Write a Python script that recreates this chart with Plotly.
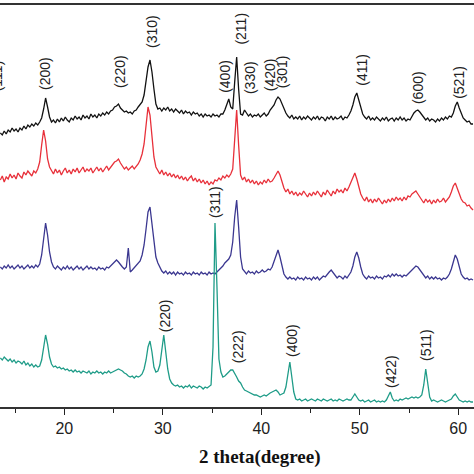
import numpy as np
import plotly.graph_objects as go

# 2-theta sampling grid (degrees)
two_theta = np.round(13.5 + 0.2 * np.arange(241), 2)

# Stacked XRD intensities (a.u., as displayed)
black_y = [
    274, 272, 276, 273, 277, 275, 279, 276, 278, 275,
    279, 277, 281, 278, 282, 280, 283, 281, 284, 282,
    285, 289, 298, 309, 300, 290, 285, 287, 284, 288,
    285, 289, 286, 290, 287, 285, 289, 287, 291, 288,
    290, 287, 292, 289, 291, 288, 293, 290, 292, 289,
    293, 291, 294, 292, 295, 293, 296, 297, 300, 301,
    303, 299, 297, 295, 296, 294, 295, 293, 296, 297,
    300, 303, 305, 312, 325, 340, 347, 335, 318, 303,
    298, 299, 296, 299, 297, 300, 296, 298, 295, 298,
    296, 294, 297, 293, 296, 294, 295, 292, 295, 293,
    294, 291, 293, 290, 293, 291, 292, 290, 293, 291,
    292, 290, 293, 293, 297, 303, 308, 300, 298, 325,
    350, 318, 293, 292, 297, 294, 291, 293, 290, 292,
    291, 293, 290, 292, 294, 291, 293, 297, 299, 302,
    307, 310, 308, 303, 298, 294, 291, 289, 292, 288,
    290, 288, 291, 287, 290, 288, 291, 289, 287, 290,
    288, 291, 287, 290, 289, 286, 290, 288, 291, 287,
    290, 288, 289, 291, 287, 290, 289, 292, 296, 302,
    310, 314, 306, 298, 293, 290, 288, 291, 287, 289,
    287, 290, 288, 286, 289, 287, 290, 286, 288, 289,
    286, 289, 287, 290, 287, 289, 286, 288, 287, 291,
    294, 296, 297, 295, 292, 290, 287, 289, 286, 288,
    287, 285, 288, 286, 289, 287, 290, 288, 291, 290,
    294, 301, 305, 299, 293, 289, 287, 285, 286, 283,
    283,
]

red_y = [
    227, 231, 225, 230, 228, 233, 229, 232, 228, 234,
    231, 229, 235, 232, 236, 233, 231, 236, 234, 238,
    245, 262, 277, 266, 248, 240, 236, 233, 238, 234,
    237, 232, 236, 239, 234, 237, 233, 238, 235, 239,
    234, 237, 240, 235, 238, 236, 239, 234, 237, 240,
    236, 239, 235, 238, 241, 237, 240, 243, 245, 246,
    248, 244, 241, 238, 240, 237, 239, 241, 238, 240,
    243, 247, 253, 263, 282, 300, 292, 270, 250, 240,
    236, 233, 237, 232, 235, 231, 234, 230, 233, 229,
    232, 228, 231, 227, 230, 226, 229, 231, 226, 229,
    225, 228, 224, 227, 223, 226, 222, 225, 223, 227,
    226, 229, 227, 231, 229, 232, 230, 233, 238, 265,
    297, 262, 232, 227, 230, 225, 228, 224, 227, 223,
    226, 222, 225, 223, 227, 224, 228, 225, 226, 229,
    233, 236, 232, 225, 219, 215, 218, 213, 216, 212,
    215, 211, 214, 212, 216, 213, 210, 214, 211, 215,
    212, 216, 213, 210, 215, 212, 217, 214, 211, 216,
    213, 218, 215, 217, 214, 219, 216, 220, 225, 231,
    234, 228, 219, 213, 209, 206, 210, 205, 208, 204,
    208, 205, 209, 206, 203, 207, 204, 208, 205, 209,
    206, 210, 207, 209, 206, 210, 207, 211, 210, 213,
    215, 216, 213, 210, 207, 204, 208, 205, 207, 203,
    207, 204, 208, 205, 206, 209, 205, 208, 210, 215,
    221, 224, 219, 212, 208, 205, 204, 201, 202, 199,
    197,
]

blue_y = [
    140, 138, 141, 139, 142, 139, 141, 138, 140, 142,
    139, 141, 138, 140, 142, 139, 141, 139, 142, 140,
    143, 152, 168, 184, 172, 155, 145, 140, 138, 141,
    139, 137, 140, 138, 141, 138, 140, 137, 139, 141,
    138, 140, 137, 139, 141, 138, 140, 138, 139, 137,
    140, 138, 139, 137, 140, 139, 141, 144, 146, 147,
    145, 142, 140, 138, 140, 159, 135, 137, 139, 141,
    143, 146, 152, 162, 178, 195, 200, 185, 165, 150,
    144, 140, 136, 134, 136, 133, 135, 133, 135, 132,
    135, 133, 134, 132, 135, 133, 134, 132, 135, 133,
    134, 132, 135, 133, 134, 132, 135, 133, 134, 133,
    135, 136, 139, 141, 144, 146, 148, 152, 165, 190,
    207, 180, 150, 138, 135, 133, 136, 134, 135, 133,
    136, 134, 135, 137, 135, 136, 138, 137, 140, 145,
    152, 157, 150, 140, 133, 130, 128, 130, 128, 129,
    127, 130, 128, 129, 127, 130, 128, 129, 127, 130,
    128, 130, 127, 129, 131, 130, 133, 135, 137, 134,
    131, 129, 131, 130, 128, 131, 129, 132, 135, 141,
    150, 155, 149, 140, 133, 130, 128, 131, 129, 130,
    128, 131, 129, 130, 128, 131, 130, 132, 130, 133,
    131, 133, 131, 132, 130, 132, 131, 133, 135, 138,
    140, 141, 140, 137, 134, 131, 129, 131, 128, 130,
    128, 130, 128, 129, 127, 129, 128, 130, 133, 138,
    146, 152, 148, 139, 133, 130, 128, 129, 127, 128,
    127,
]

teal_y = [
    49, 47, 50, 48, 46, 48, 45, 47, 44, 46,
    45, 43, 46, 42, 44, 41, 43, 40, 42, 40,
    41, 47, 60, 72, 63, 50, 43, 40, 41, 39,
    40, 38, 39, 37, 38, 36, 37, 35, 37, 35,
    36, 34, 36, 35, 34, 36, 33, 35, 34, 36,
    34, 35, 33, 35, 34, 36, 34, 35, 36, 37,
    38, 37, 36, 34, 33, 31, 30, 31, 29, 31,
    30, 31, 33, 38, 47, 60, 66, 55, 40, 35,
    36, 42, 58, 72, 55, 38, 28, 24, 22, 21,
    22, 20, 21, 19, 21, 20, 22, 19, 21, 20,
    19, 21, 20, 18, 20, 19, 21, 22, 60, 184,
    120, 48, 35, 30, 31, 33, 35, 37, 37, 34,
    30, 26, 24, 20, 17, 16, 15, 14, 13, 12,
    12, 11, 10, 11, 12, 11, 13, 14, 15, 16,
    17, 15, 12, 13, 14, 20, 33, 45, 30, 15,
    8, 7, 8, 6, 7, 8, 6, 7, 8, 7,
    6, 8, 7, 6, 8, 7, 6, 7, 8, 6,
    7, 6, 8, 7, 6, 7, 8, 7, 7, 10,
    13, 10, 7, 6, 7, 5, 6, 7, 5, 6,
    7, 5, 6, 5, 6, 5, 7, 11, 15, 9,
    6, 7, 6, 8, 7, 8, 9, 8, 9, 10,
    9, 10, 9, 10, 12, 22, 38, 24, 10, 6,
    7, 6, 5, 6, 7, 6, 5, 6, 7, 8,
    11, 13, 10, 7, 6, 5, 6, 5, 6, 5,
    5,
]

series_colors = ["#111111", "#e8303a", "#3b3790", "#1f9c88"]
series_values = [black_y, red_y, blue_y, teal_y]

# Miller-index labels: text, 2theta position, height
label_text = ["(111)", "(200)", "(220)", "(310)", "(400)", "(211)", "(330)",
              "(420)", "(301)", "(411)", "(600)", "(521)",
              "(311)", "(220)", "(222)", "(400)", "(422)", "(511)"]
label_x = [13.5, 18.04, 25.66, 28.9, 36.3, 37.9, 38.86,
           40.91, 42.13, 50.2, 55.92, 60.06,
           35.3, 30.24, 37.65, 43.12, 53.17, 56.72]
label_y = [331, 333, 335, 376, 331, 378, 329,
           332, 335, 337, 319, 325,
           205, 91, 60, 66, 36, 62]

x_ticks = [20, 30, 40, 50, 60]

fig = go.Figure()
for vals, col in zip(series_values, series_colors):
    fig.add_trace(go.Scatter(x=two_theta, y=vals, mode="lines",
                             line=dict(color=col, width=1.3),
                             showlegend=False, hoverinfo="skip"))

for t, lx, ly in zip(label_text, label_x, label_y):
    fig.add_annotation(x=lx, y=ly, text=t, showarrow=False, textangle=-90,
                       xanchor="center", yanchor="middle",
                       xshift=-3 if lx < 14 else 0,
                       font=dict(family="Liberation Sans, Arial", size=14, color="#222222"))

fig.add_annotation(x=39.9, y=-0.124, xref="x", yref="paper",
                   text="<b>2 theta(degree)</b>", showarrow=False,
                   xanchor="center", yanchor="middle",
                   font=dict(family="Liberation Serif, Times New Roman", size=19, color="#111111"))

fig.update_layout(
    width=474, height=474,
    margin=dict(l=0, r=0, t=5, b=67),
    paper_bgcolor="white", plot_bgcolor="white",
    xaxis=dict(range=[13.47, 61.6], tickvals=x_ticks, ticks="outside", ticklen=6,
               tickwidth=1.3, tickcolor="#222", showline=True, mirror=True,
               linecolor="#333", linewidth=1.5, showgrid=False, zeroline=False,
               tickfont=dict(family="Liberation Sans, Arial", size=16, color="#222"),
               minor=dict(tickvals=[15, 25, 35, 45, 55], ticks="outside", ticklen=4,
                          tickwidth=1.3, tickcolor="#222")),
    yaxis=dict(range=[0, 402], visible=False, showgrid=False, zeroline=False),
)

fig.write_html("out.html")
